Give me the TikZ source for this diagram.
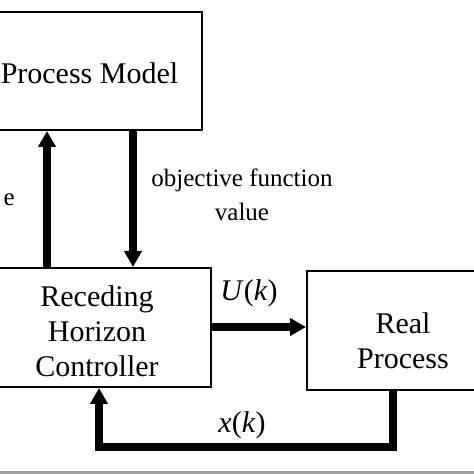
\documentclass[tikz,border=0pt]{standalone}
\usepackage{fontspec}
\setmainfont{Liberation Serif}
\usetikzlibrary{arrows.meta}

\begin{document}
\begin{tikzpicture}[x=1pt,y=1pt,
  blk/.style={draw, line width=2pt, inner sep=0pt},
  sig/.style={line width=7.5pt, line join=miter, -{Triangle[length=16pt,width=17pt]}},
  lbl/.style={font=\fontsize{30}{35}\selectfont, align=center, inner sep=0pt},
  small/.style={font=\fontsize{25}{34}\selectfont, align=center, inner sep=0pt}]
\useasboundingbox (0,0) rectangle (474,474);

% bande grise en bas
\fill[gray!75] (0,0) rectangle (474,2.5);

% Blocs
\node[blk, minimum width=230pt, minimum height=118pt] (model) at (87,403) {};
\node[blk, minimum width=228pt, minimum height=119pt] (ctrl) at (97,146.5) {};
\node[blk, minimum width=192pt, minimum height=119pt] (real) at (403,143.5) {};

\node[lbl] (modeltxt) at (89.5,401) {Process Model};
\node[lbl] (ctrltxt) at (97,143) {Receding\\Horizon\\Controller};
\node[lbl] (realtxt) at (403,133.5) {Real\\Process};

% Fleches
\draw[sig] (47,0 |- ctrl.north) -- (47,0 |- model.south);
\draw[sig] (133,0 |- model.south) -- (133,0 |- ctrl.north);
\draw[sig] (ctrl.east |- 0,147) -- (real.west |- 0,147);
\draw[sig] (393,0 |- real.south) |- (99,27) -- (99,0 |- ctrl.south);

% Labels
\node[small, anchor=east] (elbl) at (15,274) {e};
\node[small] (objlbl) at (242,279) {objective function\\value};
\node[lbl] (ulbl) at (249,181) {\textit{U}(\textit{k})};
\node[lbl] (xlbl) at (242,49) {\textit{x}(\textit{k})};
\end{tikzpicture}
\end{document}
